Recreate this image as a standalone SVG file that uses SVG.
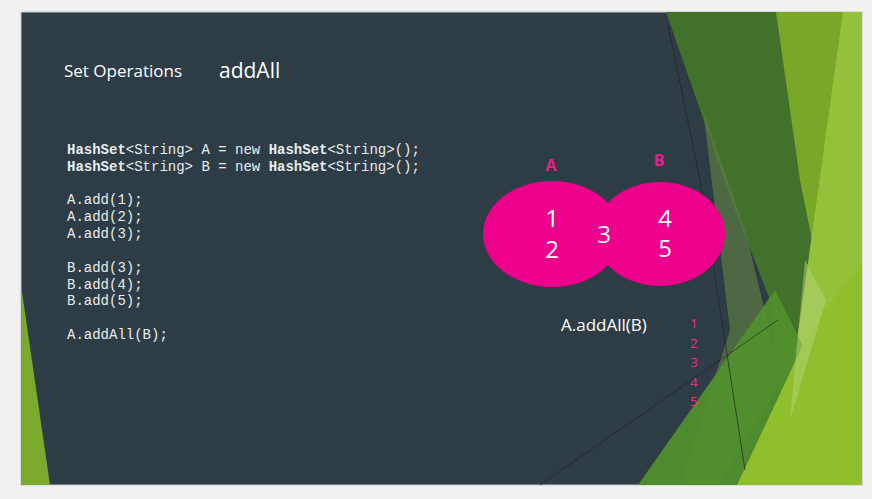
<svg xmlns="http://www.w3.org/2000/svg" width="872" height="499" viewBox="0 0 872 499">
<style>
.code{font-family:"Liberation Mono",monospace;font-size:14px;fill:#e8ecee}
.b{font-weight:bold}
.num{font-family:"Open Sans",sans-serif;font-size:24px;fill:#fff;text-anchor:middle}
.lst{font-family:"Open Sans",sans-serif;font-size:13px;fill:#f0307f;text-anchor:middle}
</style>
<rect width="872" height="499" fill="#f1f1f1"/>
<rect x="21" y="12" width="841" height="473" fill="#2d3c45" stroke="#c8c8c8"/>
<polygon points="21,285 50,485 21,485" fill="#7aaa2e"/>
<polygon points="666,12 812,12 818,485 790,485 770,300 735,210" fill="#41712a"/>
<polygon points="776,12 843,12 830,330 800,180" fill="#79a828"/>
<polygon points="843,12 862,12 862,485 773,485 800,320" fill="#93c13a"/>
<polygon points="703,110 745,230 782,380 720,485 680,485 730,330" fill="#5d7a45" opacity="0.7"/>
<polygon points="638,485 775,290 825,390 790,485" fill="#52922b" opacity="0.9"/>
<polygon points="862,262 862,485 737,485 810,330" fill="#8fbf2d"/>
<polygon points="805,260 826,300 790,420" fill="#b5d47a" opacity="0.5"/>
<polyline points="668,25 700,180 745,470" fill="none" stroke="#222" stroke-width="1" opacity="0.7"/>
<line x1="540" y1="485" x2="778" y2="320" stroke="#222" opacity="0.6"/>
<text x="64" y="77" font-family="Open Sans,sans-serif" font-size="17" fill="#fff">Set Operations</text>
<text x="219" y="78" font-family="Open Sans,sans-serif" font-size="21" fill="#fff">addAll</text>
<g class="code">
<text x="67" y="154"><tspan class="b">HashSet</tspan>&lt;String&gt; A = new <tspan class="b">HashSet</tspan>&lt;String&gt;();</text>
<text x="67" y="171"><tspan class="b">HashSet</tspan>&lt;String&gt; B = new <tspan class="b">HashSet</tspan>&lt;String&gt;();</text>
<text x="67" y="204">A.add(1);</text>
<text x="67" y="221">A.add(2);</text>
<text x="67" y="238">A.add(3);</text>
<text x="67" y="272">B.add(3);</text>
<text x="67" y="289">B.add(4);</text>
<text x="67" y="305">B.add(5);</text>
<text x="67" y="339">A.addAll(B);</text>
</g>
<g id="venn">
<ellipse cx="552" cy="234" rx="69" ry="53" fill="#ec008c"/>
<ellipse cx="660" cy="234" rx="65" ry="52" fill="#ec008c"/>
</g>
<text x="551" y="171" font-family="Open Sans,sans-serif" font-weight="bold" font-size="16" fill="#ec1c8c" text-anchor="middle">A</text>
<text x="659" y="166" font-family="Open Sans,sans-serif" font-weight="bold" font-size="16" fill="#ec1c8c" text-anchor="middle">B</text>
<text class="num" x="552" y="227">1</text>
<text class="num" x="552" y="258">2</text>
<text class="num" x="604" y="243">3</text>
<text class="num" x="665" y="227">4</text>
<text class="num" x="665" y="257">5</text>
<text x="561" y="331" font-family="Open Sans,sans-serif" font-size="17" fill="#fff">A.addAll(B)</text>
<text class="lst" x="694" y="328">1</text>
<text class="lst" x="694" y="348">2</text>
<text class="lst" x="694" y="367">3</text>
<text class="lst" x="694" y="387">4</text>
<text class="lst" x="694" y="406">5</text>
</svg>
